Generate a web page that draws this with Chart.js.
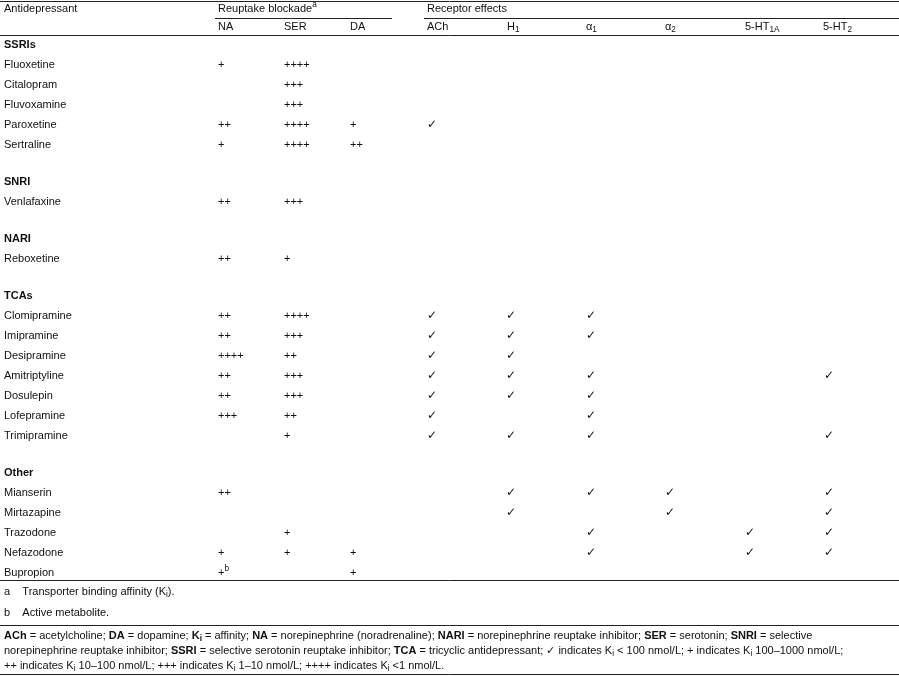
<!DOCTYPE html>
<html><head><meta charset="utf-8">
<script src="https://cdn.jsdelivr.net/npm/chart.js@4"></script>
<style>html,body{margin:0;padding:0;background:#fff}canvas{display:block}</style>
</head><body>
<canvas id="c" width="899" height="676"></canvas>
<script>
const groups = ["SSRIs","SNRI","NARI","TCAs","Other"];
const drugs = [
 ["Fluoxetine","Citalopram","Fluvoxamine","Paroxetine","Sertraline"],
 ["Venlafaxine"],["Reboxetine"],
 ["Clomipramine","Imipramine","Desipramine","Amitriptyline","Dosulepin","Lofepramine","Trimipramine"],
 ["Mianserin","Mirtazapine","Trazodone","Nefazodone","Bupropion"]];
const naVals  = [["+","","","++","+"],["++"],["++"],["++","++","++++","++","++","+++",""],["++","","","+","+^b"]];
const serVals = [["++++","+++","+++","++++","++++"],["+++"],["+"],["++++","+++","++","+++","+++","++","+"],["","","+","+",""]];
const daVals  = [["","","","+","++"],[""],[""],["","","","","","",""],["","","","+","+"]];
// receptor flags: ACh H1 a1 a2 5HT1A 5HT2
const receptorVals = [["000000","000000","000000","100000","000000"],["000000"],["000000"],
 ["111000","111000","110000","111001","111000","101000","111001"],
 ["011101","010101","001011","001011","000000"]];
const colX = [4,218,284,350,427,507,586,665,745,823];
const checkX = [432,511,591,670,750,829];

const F = '"Liberation Sans", Arial, sans-serif';
const rows = [];
let y = 45;
groups.forEach((g,gi)=>{
  rows.push({y, cells:[[0,"*"+g+"*"]]});
  drugs[gi].forEach((d,di)=>{
    y+=20;
    const cells=[[0,d],[1,naVals[gi][di]],[2,serVals[gi][di]],[3,daVals[gi][di]]];
    const r=receptorVals[gi][di];
    for(let k=0;k<6;k++) if(r[k]==="1") cells.push([10+k,"✓"]);
    rows.push({y,cells});
  });
  y+=37;
});
const points=[];
rows.forEach(r=>r.cells.forEach(([c,t])=>{ if(t) points.push({x: c>=10?checkX[c-10]:colX[c], y:r.y, t, chk:c>=10}); }));

function drawRich(ctx,str,x,y,size){
  // *bold*, _sub_, ^sup^
  let bold=false;
  const re=/(\*|_[^_]*_|\^[^^]*\^|[^*_^]+)/g; let m;
  while((m=re.exec(str))){
    const s=m[0];
    if(s==="*"){bold=!bold;continue;}
    let txt=s,fs=size,dy=0;
    if(s[0]==="_"){txt=s.slice(1,-1);fs=size*0.75;dy=3;}
    else if(s[0]==="^"){txt=s.slice(1,-1);fs=size*0.75;dy=-4;}
    ctx.font=(bold?"bold ":"")+fs+"px "+F;
    ctx.fillText(txt,x,y+dy);
    x+=ctx.measureText(txt).width;
  }
}
const tablePlugin={id:'tbl',afterDatasetsDraw(chart){
  const ctx=chart.ctx, xs=chart.scales.x, ys=chart.scales.y;
  const X=v=>xs.getPixelForValue(v), Y=v=>ys.getPixelForValue(v);
  ctx.save(); ctx.fillStyle="#111"; ctx.textBaseline="middle";
  chart.data.datasets[0].data.forEach(p=>{
    if(p.chk){ctx.font="12px 'DejaVu Sans'";ctx.textAlign="center";ctx.fillText(p.t,X(p.x),Y(p.y));ctx.textAlign="left";}
    else drawRich(ctx,p.t.replace("^b","^b^"),X(p.x),Y(p.y),11);
  });
  const heads=[[4,9,"Antidepressant"],[218,9,"Reuptake blockade^a^"],[427,9,"Receptor effects"],
   [218,27,"NA"],[284,27,"SER"],[350,27,"DA"],[427,27,"ACh"],[507,27,"H_1_"],[586,27,"α_1_"],[665,27,"α_2_"],[745,27,"5-HT_1A_"],[823,27,"5-HT_2_"],
   [4,592,"a    Transporter binding affinity (K_i_)."],[4,613,"b    Active metabolite."],
   [4,636,"*ACh* = acetylcholine; *DA* = dopamine; *K_i_* = affinity; *NA* = norepinephrine (noradrenaline); *NARI* = norepinephrine reuptake inhibitor; *SER* = serotonin; *SNRI* = selective"],
   [4,651,"norepinephrine reuptake inhibitor; *SSRI* = selective serotonin reuptake inhibitor; *TCA* = tricyclic antidepressant; ✓ indicates K_i_ < 100 nmol/L; + indicates K_i_ 100–1000 nmol/L;"],
   [4,666,"++ indicates K_i_ 10–100 nmol/L; +++ indicates K_i_ 1–10 nmol/L; ++++ indicates K_i_ <1 nmol/L."]];
  heads.forEach(([x,y,t])=>drawRich(ctx,t,X(x),Y(y),11));
  ctx.strokeStyle="#222"; ctx.lineWidth=1;
  const line=(x1,x2,y)=>{ctx.beginPath();ctx.moveTo(X(x1),Y(y)+0.5);ctx.lineTo(X(x2),Y(y)+0.5);ctx.stroke();};
  line(0,899,1); line(215,392,18); line(424,899,18); line(0,899,35); line(0,899,580); line(0,899,625); line(0,899,674);
  ctx.restore();
}};
new Chart(document.getElementById('c'),{type:'scatter',
  data:{datasets:[{data:points,pointRadius:0,showLine:false}]},
  options:{responsive:false,animation:false,layout:{padding:0},
    plugins:{legend:{display:false},tooltip:{enabled:false}},
    scales:{x:{type:'linear',min:0,max:899,display:false},y:{type:'linear',min:0,max:676,reverse:true,display:false}}},
  plugins:[tablePlugin]});
</script>
</body></html>
